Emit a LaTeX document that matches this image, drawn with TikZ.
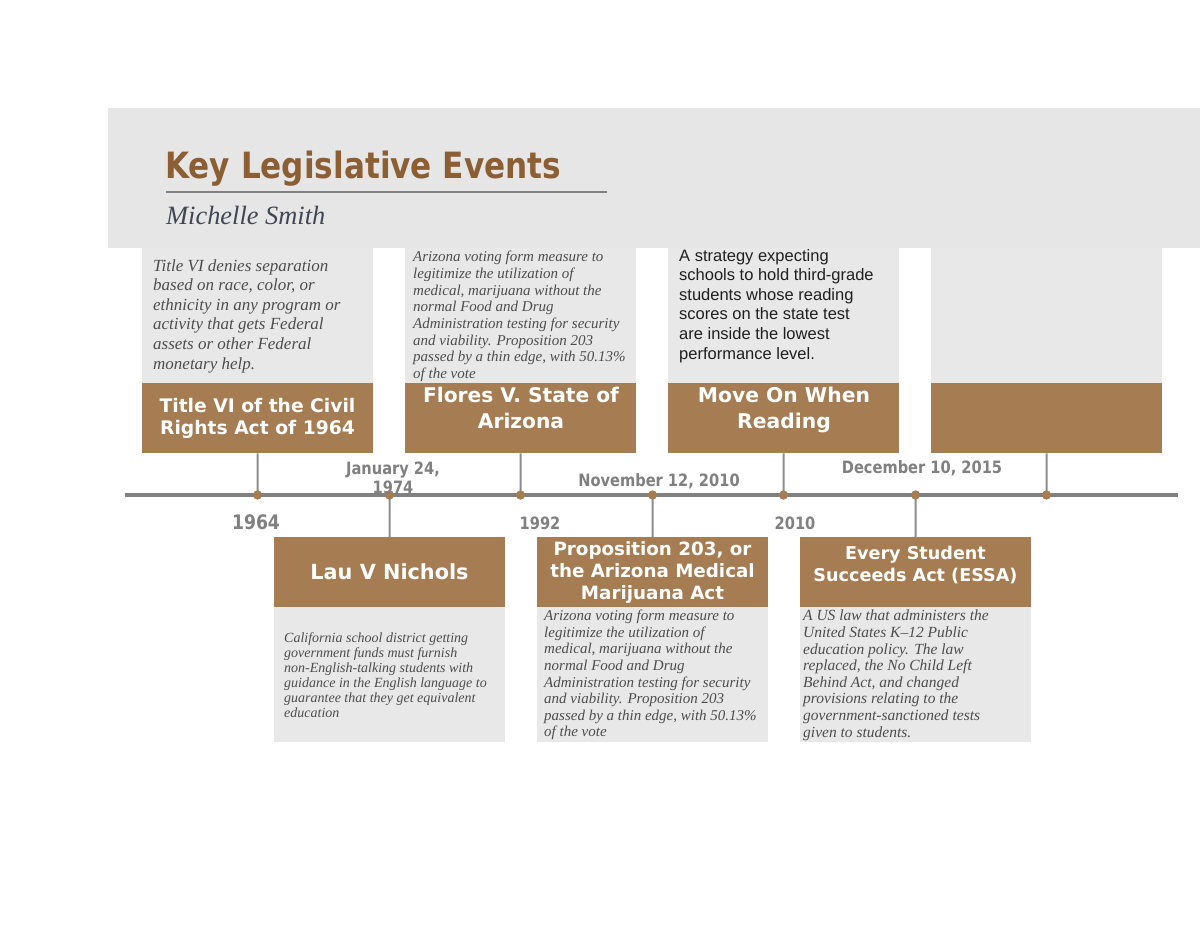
\documentclass[tikz,border=0pt]{standalone}
\usepackage{fontspec}
\setmainfont{Liberation Serif}
\newfontfamily\verd{DejaVu Sans}
\newfontfamily\tah{DejaVu Sans}[FakeStretch=0.86]
\newfontfamily\arialf{Liberation Sans}
\definecolor{hdr}{HTML}{E6E6E6}
\definecolor{boxgray}{HTML}{E8E8E8}
\definecolor{brownbox}{HTML}{A67C52}
\definecolor{titlebrown}{HTML}{8B5E34}
\definecolor{linegray}{HTML}{808080}
\definecolor{conngray}{HTML}{8C8C8C}
\definecolor{txtgray}{HTML}{4D4D4D}
\definecolor{authorc}{HTML}{3F4753}
\tikzset{
  graybox/.style={draw=none,fill=boxgray,minimum width=231pt,minimum height=135pt,anchor=north west,inner sep=0pt},
  brownrect/.style={draw=none,fill=brownbox,minimum width=231pt,minimum height=70pt,anchor=north west,inner sep=0pt},
  boxtitle/.style={text=white,align=center,inner sep=0pt},
  serifbody/.style={text=txtgray,align=left,anchor=north west,inner sep=0pt},
  datelabel/.style={text=linegray,align=center,inner sep=0pt},
  tdot/.style={circle,fill=brownbox,inner sep=0pt,minimum size=9pt},
  conn/.style={draw=conngray,line width=2pt},
  timeline/.style={draw=linegray,line width=4pt}
}
\begin{document}
\begin{tikzpicture}[x=1pt,y=-1pt]
\useasboundingbox (0,0) rectangle (1200,927);
\fill[white] (0,0) rectangle (1200,927);

% top boxes
\node[graybox] (g1) at (142,248) {};
\node[graybox] (g2) at (405,248) {};
\node[graybox] (g3) at (668,248) {};
\node[graybox] (g4) at (931,248) {};
\node[brownrect] (b1) at (142,383) {};
\node[brownrect] (b2) at (405,383) {};
\node[brownrect] (b3) at (668,383) {};
\node[brownrect] (b4) at (931,383) {};

% header
\fill[hdr] (108,108) rectangle (1200,248);
\node[anchor=base west,inner sep=0pt,text=titlebrown,font=\tah\bfseries\fontsize{36.2}{40}\selectfont] (title) at (165,178) {Key Legislative Events};
\draw[draw=linegray,line width=2pt] (166,192) -- (607,192);
\node[anchor=base west,inner sep=0pt,text=authorc,font=\itshape\fontsize{26.4}{30}\selectfont] (author) at (166,224) {Michelle Smith};

% bottom boxes
\node[brownrect] (b5) at (274,537) {};
\node[brownrect] (b6) at (537,537) {};
\node[brownrect] (b7) at (800,537) {};
\node[graybox] (g5) at (274,607) {};
\node[graybox] (g6) at (537,607) {};
\node[graybox] (g7) at (800,607) {};

% top texts
\node[serifbody,font=\itshape\fontsize{17}{19.6}\selectfont] (t1) at (153,259)
 {Title VI denies separation\\based on race, color, or\\ethnicity in any program or\\activity that gets Federal\\assets or other Federal\\monetary help.};
\node[serifbody,font=\itshape\fontsize{15}{16.7}\selectfont] (t2) at (413,251)
 {Arizona voting form measure to\\legitimize the utilization of\\medical, marijuana without the\\normal Food and Drug\\Administration testing for security\\and viability. Proposition 203\\passed by a thin edge, with 50.13\%\\of the vote};
\node[serifbody,text=black!88,font=\arialf\fontsize{16.5}{19.6}\selectfont] (t3) at (679,249)
 {A strategy expecting\\schools to hold third-grade\\students whose reading\\scores on the state test\\are inside the lowest\\performance level.};

% box titles
\node[boxtitle,font=\verd\bfseries\fontsize{18.7}{22}\selectfont] (h1) at (257.5,418) {Title VI of the Civil\\Rights Act of 1964};
\node[boxtitle,font=\verd\bfseries\fontsize{20.2}{26}\selectfont] (h2) at (521,408) {Flores V. State of\\Arizona};
\node[boxtitle,font=\verd\bfseries\fontsize{20.3}{26}\selectfont] (h3) at (784,410) {Move On When\\Reading};
\node[boxtitle,font=\verd\bfseries\fontsize{20.8}{24}\selectfont] (h5) at (389.5,572) {Lau V Nichols};
\node[boxtitle,font=\verd\bfseries\fontsize{18.3}{22}\selectfont] (h6) at (652.5,573) {Proposition 203, or\\the Arizona Medical\\Marijuana Act};
\node[boxtitle,font=\verd\bfseries\fontsize{17.6}{22}\selectfont] (h7) at (915.5,565) {Every Student\\Succeeds Act (ESSA)};

% bottom texts
\node[serifbody,font=\itshape\fontsize{14}{15}\selectfont] (t5) at (284,632)
 {California school district getting\\government funds must furnish\\non-English-talking students with\\guidance in the English language to\\guarantee that they get equivalent\\education};
\node[serifbody,font=\itshape\fontsize{15}{16.6}\selectfont] (t6) at (544,610)
 {Arizona voting form measure to\\legitimize the utilization of\\medical, marijuana without the\\normal Food and Drug\\Administration testing for security\\and viability. Proposition 203\\passed by a thin edge, with 50.13\%\\of the vote};
\node[serifbody,font=\itshape\fontsize{15.5}{16.6}\selectfont] (t7) at (803,610)
 {A US law that administers the\\United States K–12 Public\\education policy. The law\\replaced, the No Child Left\\Behind Act, and changed\\provisions relating to the\\government-sanctioned tests\\given to students.};

% timeline
\coordinate (tl0) at (125,495);
\coordinate (tl1) at (1178,495);
\draw[timeline] (tl0) -- (tl1);

\node[tdot] (d1) at (257.5,495) {};
\node[tdot] (d2) at (389.5,495) {};
\node[tdot] (d3) at (520.5,495) {};
\node[tdot] (d4) at (652.5,495) {};
\node[tdot] (d5) at (783.5,495) {};
\node[tdot] (d6) at (915.5,495) {};
\node[tdot] (d7) at (1046.5,495) {};

\draw[conn] (b1.south) -- (d1.center);
\draw[conn] (b2.south) -- (d3.center);
\draw[conn] (b3.south) -- (d5.center);
\draw[conn] (b4.south) -- (d7.center);
\draw[conn] (d2.center) -- (b5.north);
\draw[conn] (d4.center) -- (b6.north);
\draw[conn] (d6.center) -- (b7.north);
\node[tdot] at (d1) {};
\node[tdot] at (d2) {};
\node[tdot] at (d3) {};
\node[tdot] at (d4) {};
\node[tdot] at (d5) {};
\node[tdot] at (d6) {};
\node[tdot] at (d7) {};

% date labels
\node[datelabel,font=\tah\bfseries\fontsize{20}{24}\selectfont] (l1) at (256,522) {1964};
\node[datelabel,font=\tah\bfseries\fontsize{17}{19.5}\selectfont] (l2) at (393,478) {January 24,\\1974};
\node[datelabel,font=\tah\bfseries\fontsize{17}{20}\selectfont] (l3) at (540,523) {1992};
\node[datelabel,font=\tah\bfseries\fontsize{17}{20}\selectfont] (l4) at (659,481) {November 12, 2010};
\node[datelabel,font=\tah\bfseries\fontsize{17}{20}\selectfont] (l5) at (795,523) {2010};
\node[datelabel,font=\tah\bfseries\fontsize{17}{20}\selectfont] (l6) at (922,468) {December 10, 2015};
\end{tikzpicture}
\end{document}
